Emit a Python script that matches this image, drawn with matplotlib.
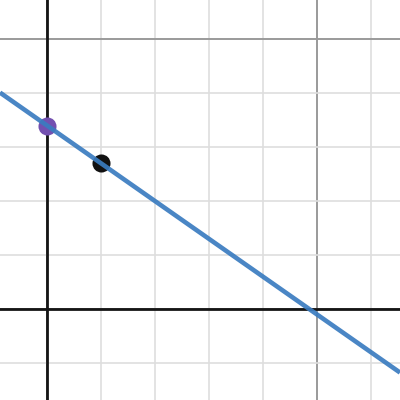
import matplotlib
matplotlib.use("Agg")
import matplotlib.pyplot as plt
import numpy as np

# line y = intercept + slope * x
line_intercept = 3.4
line_slope = -0.7

# marked points
purple_pt = (0.0, 3.4)
black_pt = (1.0, 2.7)

x_range = (-0.876, 6.531)
y_range = (-1.68, 5.728)

fig = plt.figure(figsize=(4, 4), dpi=100)
ax = fig.add_axes([0, 0, 1, 1])
ax.set_xlim(*x_range)
ax.set_ylim(*y_range)
ax.axis("off")

# grid: minor every unit, major every 5
for gx in range(-1, 8):
    c, lw = ("#9a9a9a", 1.4) if gx % 5 == 0 else ("#dedede", 1.2)
    ax.axvline(gx, color=c, lw=lw, zorder=1)
for gy in range(-2, 7):
    c, lw = ("#9a9a9a", 1.4) if gy % 5 == 0 else ("#dedede", 1.2)
    ax.axhline(gy, color=c, lw=lw, zorder=1)

# axes
ax.axvline(0, color="#151515", lw=2.0, zorder=2)
ax.axhline(0, color="#151515", lw=2.0, zorder=2)

# points
ax.plot(*purple_pt, "o", ms=13, color="#7350b0", mec="none", zorder=3)
ax.plot(*black_pt, "o", ms=13, color="#111111", mec="none", zorder=3)

# line
ax.axline((0, line_intercept), slope=line_slope, color="#3a7cc0",
          lw=3.3, alpha=0.92, zorder=4, solid_capstyle="butt")

fig.savefig("out.png", dpi=100)
